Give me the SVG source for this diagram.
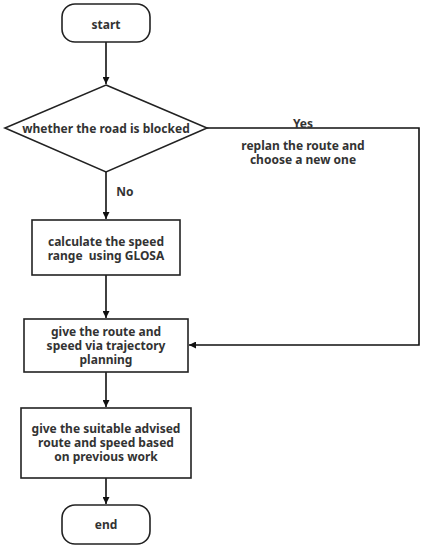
<svg xmlns="http://www.w3.org/2000/svg" width="427" height="550" viewBox="0 0 427 550">
<style>
.n{fill:#fff;stroke:#222;stroke-width:1.6}
.t{font-family:"Noto Sans","Liberation Sans",sans-serif;font-size:12px;font-weight:bold;fill:#333;text-anchor:middle}
.c{fill:none;stroke:#111;stroke-width:1.6}
</style>
<defs>
<marker id="a" viewBox="0 0 10 10" refX="10" refY="5" markerWidth="7" markerHeight="7" markerUnits="userSpaceOnUse" orient="auto"><path d="M0,0L10,5L0,10z" fill="#111"/></marker>
</defs>
<rect width="427" height="550" fill="#fff"/>
<g id="connectors">
<path class="c" d="M106,42V84" marker-end="url(#a)"/>
<path class="c" d="M106,172V219" marker-end="url(#a)"/>
<path class="c" d="M106,275V318" marker-end="url(#a)"/>
<path class="c" d="M106,372V407" marker-end="url(#a)"/>
<path class="c" d="M106,478V504" marker-end="url(#a)"/>
<path class="c" d="M207,128H419V345H189" marker-end="url(#a)"/>
<text class="t" x="303" y="128">Yes</text>
<text class="t" x="303" y="150">replan the route and</text>
<text class="t" x="303" y="164">choose a new one</text>
<text class="t" x="125" y="196">No</text>
</g>
<g id="start">
<rect class="n" x="62" y="4" width="88" height="38" rx="13"/>
<text class="t" x="106" y="29">start</text>
</g>
<g id="decision">
<path class="n" d="M106,85L207,128L106,172L5,128Z"/>
<text class="t" x="106" y="133">whether the road is blocked</text>
</g>
<g id="glosa">
<rect class="n" x="32" y="220" width="148" height="55"/>
<text class="t" x="106" y="246">calculate the speed</text>
<text class="t" x="106" y="260" xml:space="preserve">range  using GLOSA</text>
</g>
<g id="trajectory">
<rect class="n" x="24" y="319" width="164" height="53"/>
<text class="t" x="106" y="336">give the route and</text>
<text class="t" x="106" y="350">speed via trajectory</text>
<text class="t" x="106" y="364">planning</text>
</g>
<g id="advise">
<rect class="n" x="21" y="408" width="170" height="70"/>
<text class="t" x="106" y="433">give the suitable advised</text>
<text class="t" x="106" y="447">route and speed based</text>
<text class="t" x="106" y="461">on previous work</text>
</g>
<g id="end">
<rect class="n" x="62" y="505" width="88" height="39" rx="13"/>
<text class="t" x="106" y="529">end</text>
</g>
</svg>
